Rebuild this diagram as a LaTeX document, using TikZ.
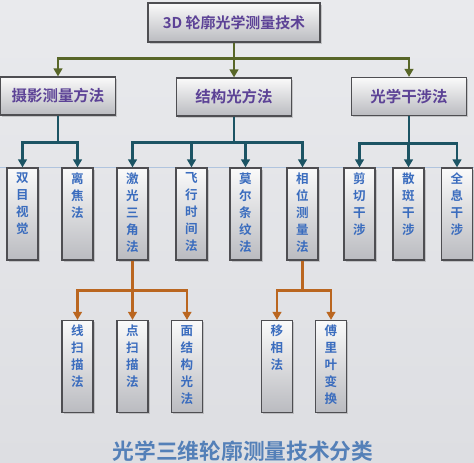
\documentclass[tikz,border=0pt]{standalone}
\usepackage{fontspec}
\setmainfont{Noto Sans CJK SC}[BoldFont={* Bold}]
\usetikzlibrary{arrows.meta,shadows}

\definecolor{bgtop}{RGB}{233,234,237}
\definecolor{bgbot}{RGB}{221,222,226}
\definecolor{boxtop}{RGB}{250,250,250}
\definecolor{boxbot}{RGB}{186,187,192}
\definecolor{boxline}{RGB}{78,78,82}
\definecolor{headtxt}{RGB}{92,66,150}
\definecolor{leaftxt}{RGB}{58,108,190}
\definecolor{olivec}{RGB}{88,102,40}
\definecolor{tealc}{RGB}{28,84,100}
\definecolor{orangec}{RGB}{186,102,32}
\definecolor{guidec}{RGB}{176,196,222}
\definecolor{titletxt}{RGB}{84,128,184}

\tikzset{every picture/.style={line width=0.75pt}}
\tikzset{
  box/.style={draw=boxline, line width=0.9pt, top color=boxtop, bottom color=boxbot,
    drop shadow={shadow xshift=1.2pt, shadow yshift=-1.2pt, opacity=0.35}, inner sep=0pt},
  rootbox/.style={box, minimum width=129pt, minimum height=29.25pt,
    font=\fontsize{11.2}{12}\selectfont\bfseries, text=headtxt},
  headbox/.style={box, minimum width=86.25pt, minimum height=28.5pt,
    font=\fontsize{11.6}{13}\selectfont\bfseries, text=headtxt},
  leafbox/.style={box, font=\fontsize{9.4}{12.75}\selectfont\bfseries, text=leaftxt},
  link/.style={line width=2.2pt, -{Triangle[width=6.5pt,length=6pt]}},
}
\newcommand{\vlbl}[1]{\parbox[c][69pt][t]{23.25pt}{\centering\vspace*{3.5pt}#1}}

\begin{document}
\begin{tikzpicture}[x=0.75pt,y=0.75pt,yscale=-1,xscale=1]
	%Shape: Background
	\shade [top color=bgtop, bottom color=bgbot] (0,0) rectangle (474,462) ;
	\useasboundingbox (0,0) rectangle (474,462) ;
	%Straight Lines: guide
	\draw [guidec, line width=0.6pt] (0,167) -- (474,167) ;

	% Level 1
	\node [rootbox] (root) at (234,22.5) {3D 轮廓光学测量技术};
	% Level 2
	\node [headbox] (photo) at (58,96) {摄影测量方法};
	\node [headbox] (struct) at (234,97) {结构光方法};
	\node [headbox] (interf) at (409,96.5) {光学干涉法};

	% Level 3
	\node [leafbox] (binoc) at (22.5,214) {\vlbl{双\\目\\视\\觉}};
	\node [leafbox] (defocus) at (77.5,214) {\vlbl{离\\焦\\法}};
	\node [leafbox] (lasertri) at (132.5,214) {\vlbl{激\\光\\三\\角\\法}};
	\node [leafbox] (tof) at (191.5,214) {\vlbl{飞\\行\\时\\间\\法}};
	\node [leafbox] (moire) at (245.5,214) {\vlbl{莫\\尔\\条\\纹\\法}};
	\node [leafbox] (phase) at (302.5,214) {\vlbl{相\\位\\测\\量\\法}};
	\node [leafbox] (shear) at (359.5,214) {\vlbl{剪\\切\\干\\涉}};
	\node [leafbox] (speckle) at (408.5,214) {\vlbl{散\\斑\\干\\涉}};
	\node [leafbox] (holo) at (457,214) {\vlbl{全\\息\\干\\涉}};

	% Level 4
	\node [leafbox] (linescan) at (77.5,366.5) {\vlbl{线\\扫\\描\\法}};
	\node [leafbox] (ptscan) at (132.5,366.5) {\vlbl{点\\扫\\描\\法}};
	\node [leafbox] (areasl) at (187,366.5) {\vlbl{面\\结\\构\\光\\法}};
	\node [leafbox] (phshift) at (277,366.5) {\vlbl{移\\相\\法}};
	\node [leafbox] (fourier) at (331,366.5) {\vlbl{傅\\里\\叶\\变\\换}};

	%Straight Lines: level 1 to 2
	\draw [link, olivec] (root.south) -- ++(0,16) -| (photo.north) ;
	\draw [link, olivec] (root.south) -- (struct.north) ;
	\draw [link, olivec] (root.south) -- ++(0,16) -| (interf.north) ;

	%Straight Lines: level 2 to 3
	\draw [link, tealc] (photo.south) -- ++(0,27) -| (binoc.north) ;
	\draw [link, tealc] (photo.south) -- ++(0,27) -| (defocus.north) ;
	\foreach \leaf in {lasertri,tof,moire,phase}
		\draw [link, tealc] (struct.south) -- ++(0,26) -| (\leaf.north) ;
	\foreach \leaf in {shear,speckle,holo}
		\draw [link, tealc] (interf.south) -- ++(0,27) -| (\leaf.north) ;

	%Straight Lines: level 3 to 4
	\foreach \leaf in {linescan,ptscan,areasl}
		\draw [link, orangec] (lasertri.south) -- ++(0,30) -| (\leaf.north) ;
	\foreach \leaf in {phshift,fourier}
		\draw [link, orangec] (phase.south) -- ++(0,30) -| (\leaf.north) ;

	% Text Node
	\node [font=\fontsize{16.3}{18}\selectfont\bfseries, text=titletxt] (title) at (243,451) {光学三维轮廓测量技术分类};

\end{tikzpicture}
\end{document}
